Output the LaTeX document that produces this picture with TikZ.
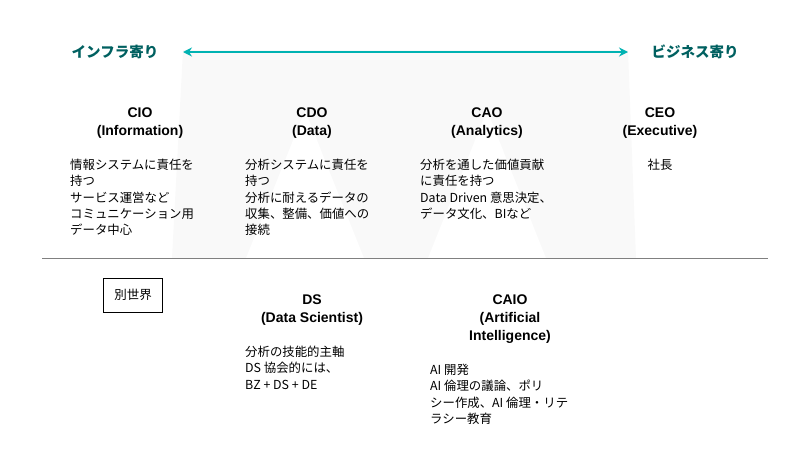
\documentclass[tikz,border=0pt]{standalone}
\usepackage{fontspec}
\setmainfont{Noto Sans CJK JP}
\newfontfamily\hfont{Liberation Sans}
\usetikzlibrary{arrows.meta}
\begin{document}
\begin{tikzpicture}[x=1pt,y=-1pt,
  head/.style={font=\hfont\bfseries\fontsize{14}{18}\selectfont,align=center,anchor=north},
  body/.style={font=\fontsize{12.4}{16.3}\selectfont,align=left,anchor=north west,inner sep=0pt},
  side/.style={font=\bfseries\fontsize{14.5}{16}\selectfont,text=teal!75!black}]
\useasboundingbox (0,0) rectangle (800,450);
\fill[gray!5] (183,50) -- (628,50) -- (636,258) -- (546,258) -- (487,110) -- (428,258) -- (364,258) -- (305,110) -- (246,258) -- (172,258) -- cycle;
\node[side] (infra) at (115,52) {インフラ寄り};
\node[side] (biz) at (695,52) {ビジネス寄り};
\coordinate (al) at (183,52); \coordinate (ar) at (628,52);
\draw[{Stealth[length=9pt,width=9pt]}-{Stealth[length=9pt,width=9pt]},line width=1.8pt,color=teal!60!cyan] (al) -- (ar);
\coordinate (sl) at (42,258); \coordinate (sr) at (768,258);
\draw[gray] (sl) -- (sr);
\node[head] (cio) at (140,104) {CIO\\(Information)};
\node[head] (cdo) at (312,104) {CDO\\(Data)};
\node[head] (cao) at (487,104) {CAO\\(Analytics)};
\node[head] (ceo) at (660,104) {CEO\\(Executive)};
\node[body] (b1) at (70,159) {情報システムに責任を\\持つ\\サービス運営など\\コミュニケーション用\\データ中心};
\node[body] (b2) at (245,159) {分析システムに責任を\\持つ\\分析に耐えるデータの\\収集、整備、価値への\\接続};
\node[body] (b3) at (420,159) {分析を通した価値貢献\\に責任を持つ\\Data Driven 意思決定、\\データ文化、BIなど};
\node[body,anchor=north] (b4) at (660,159) {社長};
\node[draw,font=\fontsize{12.5}{14}\selectfont,minimum width=59pt,minimum height=34pt] (bs) at (133,295) {別世界};
\node[head] (ds) at (312,291) {DS\\(Data Scientist)};
\node[head] (caio) at (510,291) {CAIO\\(Artificial\\Intelligence)};
\node[body] (b5) at (245,346) {分析の技能的主軸\\DS 協会的には、\\BZ + DS + DE};
\node[body] (b6) at (430,364) {AI 開発\\AI 倫理の議論、ポリ\\シー作成、AI 倫理・リテ\\ラシー教育};
\end{tikzpicture}
\end{document}
